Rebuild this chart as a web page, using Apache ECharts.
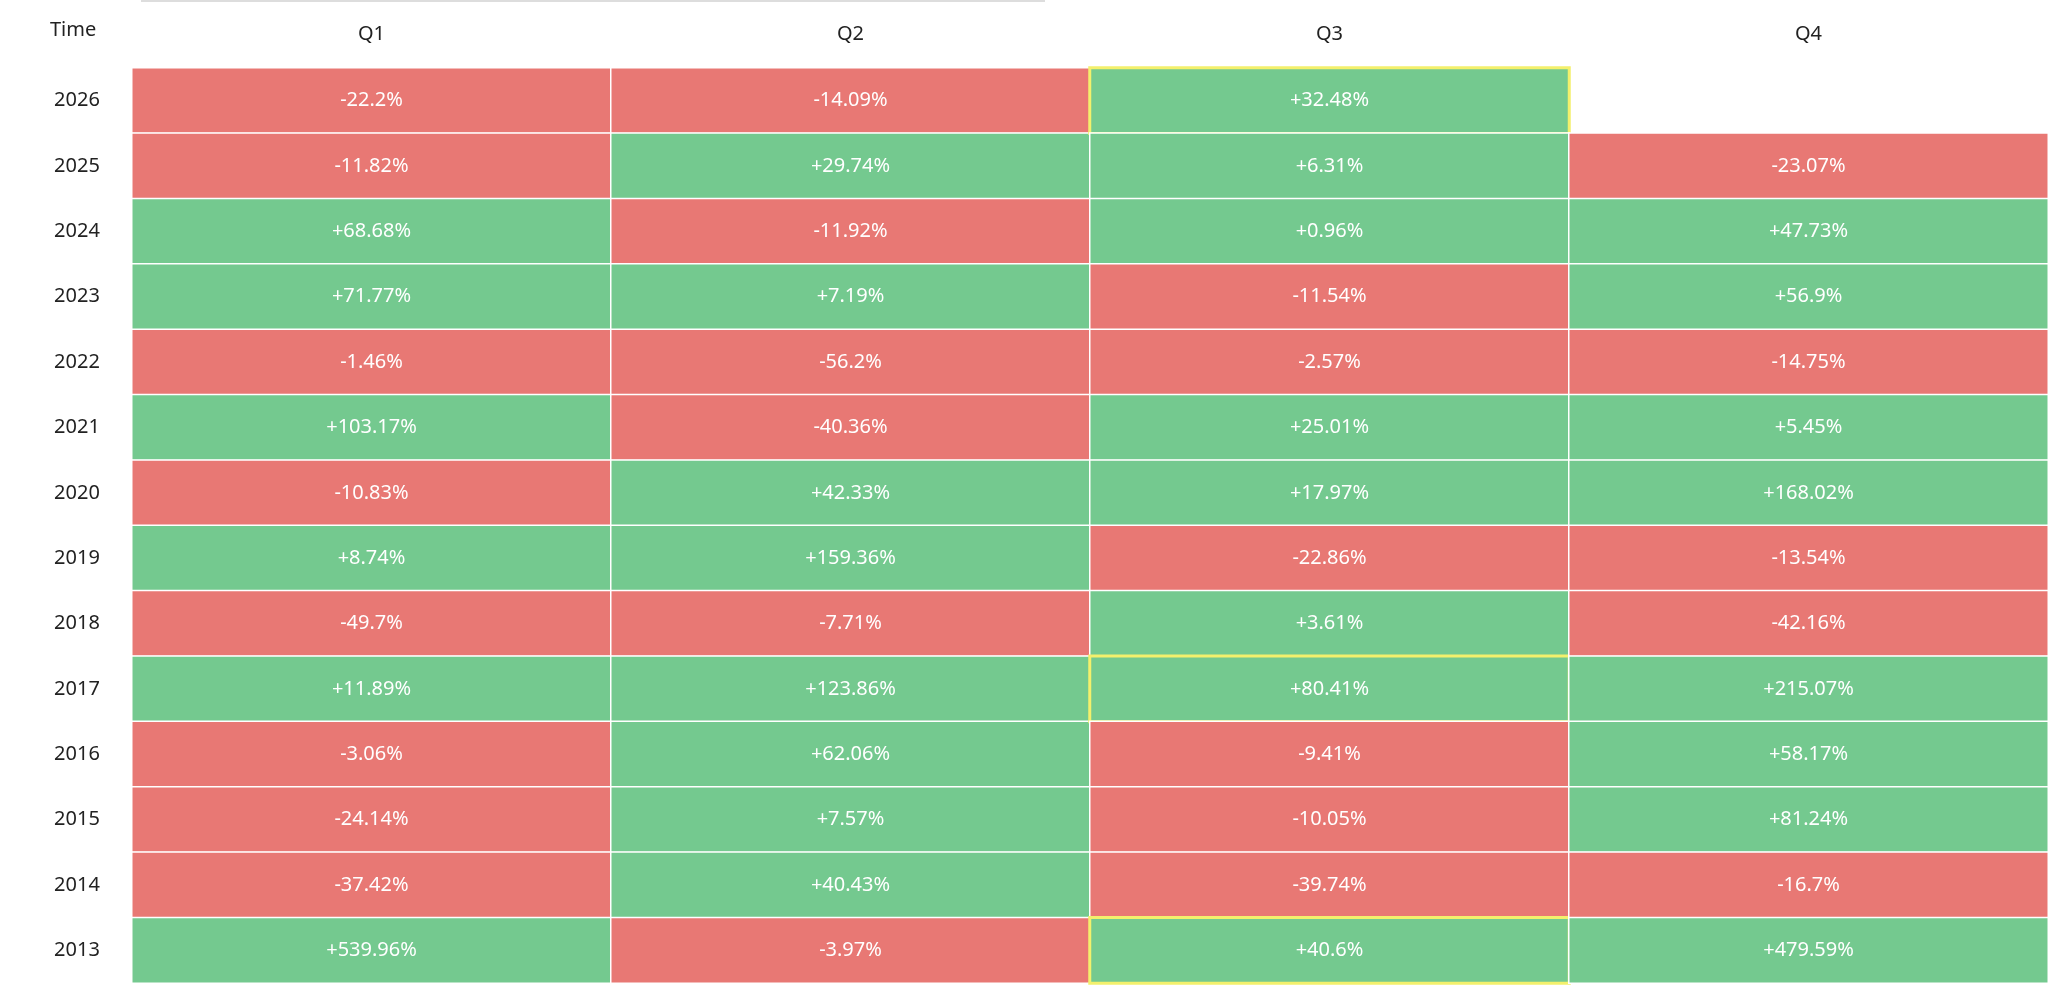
<!DOCTYPE html>
<html><head><meta charset="utf-8">
<script src="https://cdn.jsdelivr.net/npm/echarts@6/dist/echarts.min.js"></script>
<style>html,body{margin:0;background:#fff}#c{width:2048px;height:987px}</style>
</head><body><div id="c"></div>
<script>
const quarters = ["Q1","Q2","Q3","Q4"];
const years = ["2026","2025","2024","2023","2022","2021","2020","2019","2018","2017","2016","2015","2014","2013"];
const q1 = [-22.2,-11.82,68.68,71.77,-1.46,103.17,-10.83,8.74,-49.7,11.89,-3.06,-24.14,-37.42,539.96];
const q2 = [-14.09,29.74,-11.92,7.19,-56.2,-40.36,42.33,159.36,-7.71,123.86,62.06,7.57,40.43,-3.97];
const q3 = [32.48,6.31,0.96,-11.54,-2.57,25.01,17.97,-22.86,3.61,80.41,-9.41,-10.05,-39.74,40.6];
const q4 = [null,-23.07,47.73,56.9,-14.75,5.45,168.02,-13.54,-42.16,215.07,58.17,81.24,-16.7,479.59];
const highlighted = [["Q3","2026"],["Q3","2017"],["Q3","2013"]];

const cols = [q1,q2,q3,q4];
const data = [];
cols.forEach((col,qi)=>col.forEach((v,yi)=>{
  if(v===null) return;
  const hl = highlighted.some(h=>h[0]===quarters[qi]&&h[1]===years[yi]);
  const item = {value:[qi,yi,v]};
  if(hl) item.itemStyle = {borderColor:'#f3f06c',borderWidth:3};
  data.push(item);
}));
const chart = echarts.init(document.getElementById('c'));
chart.setOption({
  animation:false,
  grid:{left:132,right:0,top:68,bottom:4},
  xAxis:{type:'category',data:quarters,position:'top',axisLine:{show:false},axisTick:{show:false},
    axisLabel:{color:'#222',fontSize:20,fontFamily:'Noto Sans',margin:24},splitArea:{show:false}},
  yAxis:{type:'category',data:years,inverse:true,axisLine:{show:false},axisTick:{show:false},
    axisLabel:{color:'#222',fontSize:20,fontFamily:'Noto Sans',align:'center',margin:55}},
  visualMap:{show:false,type:'piecewise',dimension:2,pieces:[{lt:0,color:'#e87874'},{gte:0,color:'#74c98f'}]},
  series:[{type:'heatmap',data:data,
    itemStyle:{borderColor:'#fff',borderWidth:1.5},
    label:{show:true,color:'#fff',fontSize:20,fontFamily:'Noto Sans',
      formatter:p=>(p.value[2]>=0?'+':'')+p.value[2]+'%'}}],
  graphic:[
    {type:'text',left:50,top:20,style:{text:'Time',fill:'#222',font:'20px Noto Sans'}},
    {type:'rect',shape:{x:141,y:0,width:904,height:2},style:{fill:'#ddd'}},
    {type:'text',right:2,top:946,style:{text:'\u2727 @ Adex_crypt 1',fill:'rgba(255,255,255,0.85)',font:'22px Noto Sans',stroke:'rgba(0,0,0,0.15)',lineWidth:1}}
  ]
});
</script></body></html>
